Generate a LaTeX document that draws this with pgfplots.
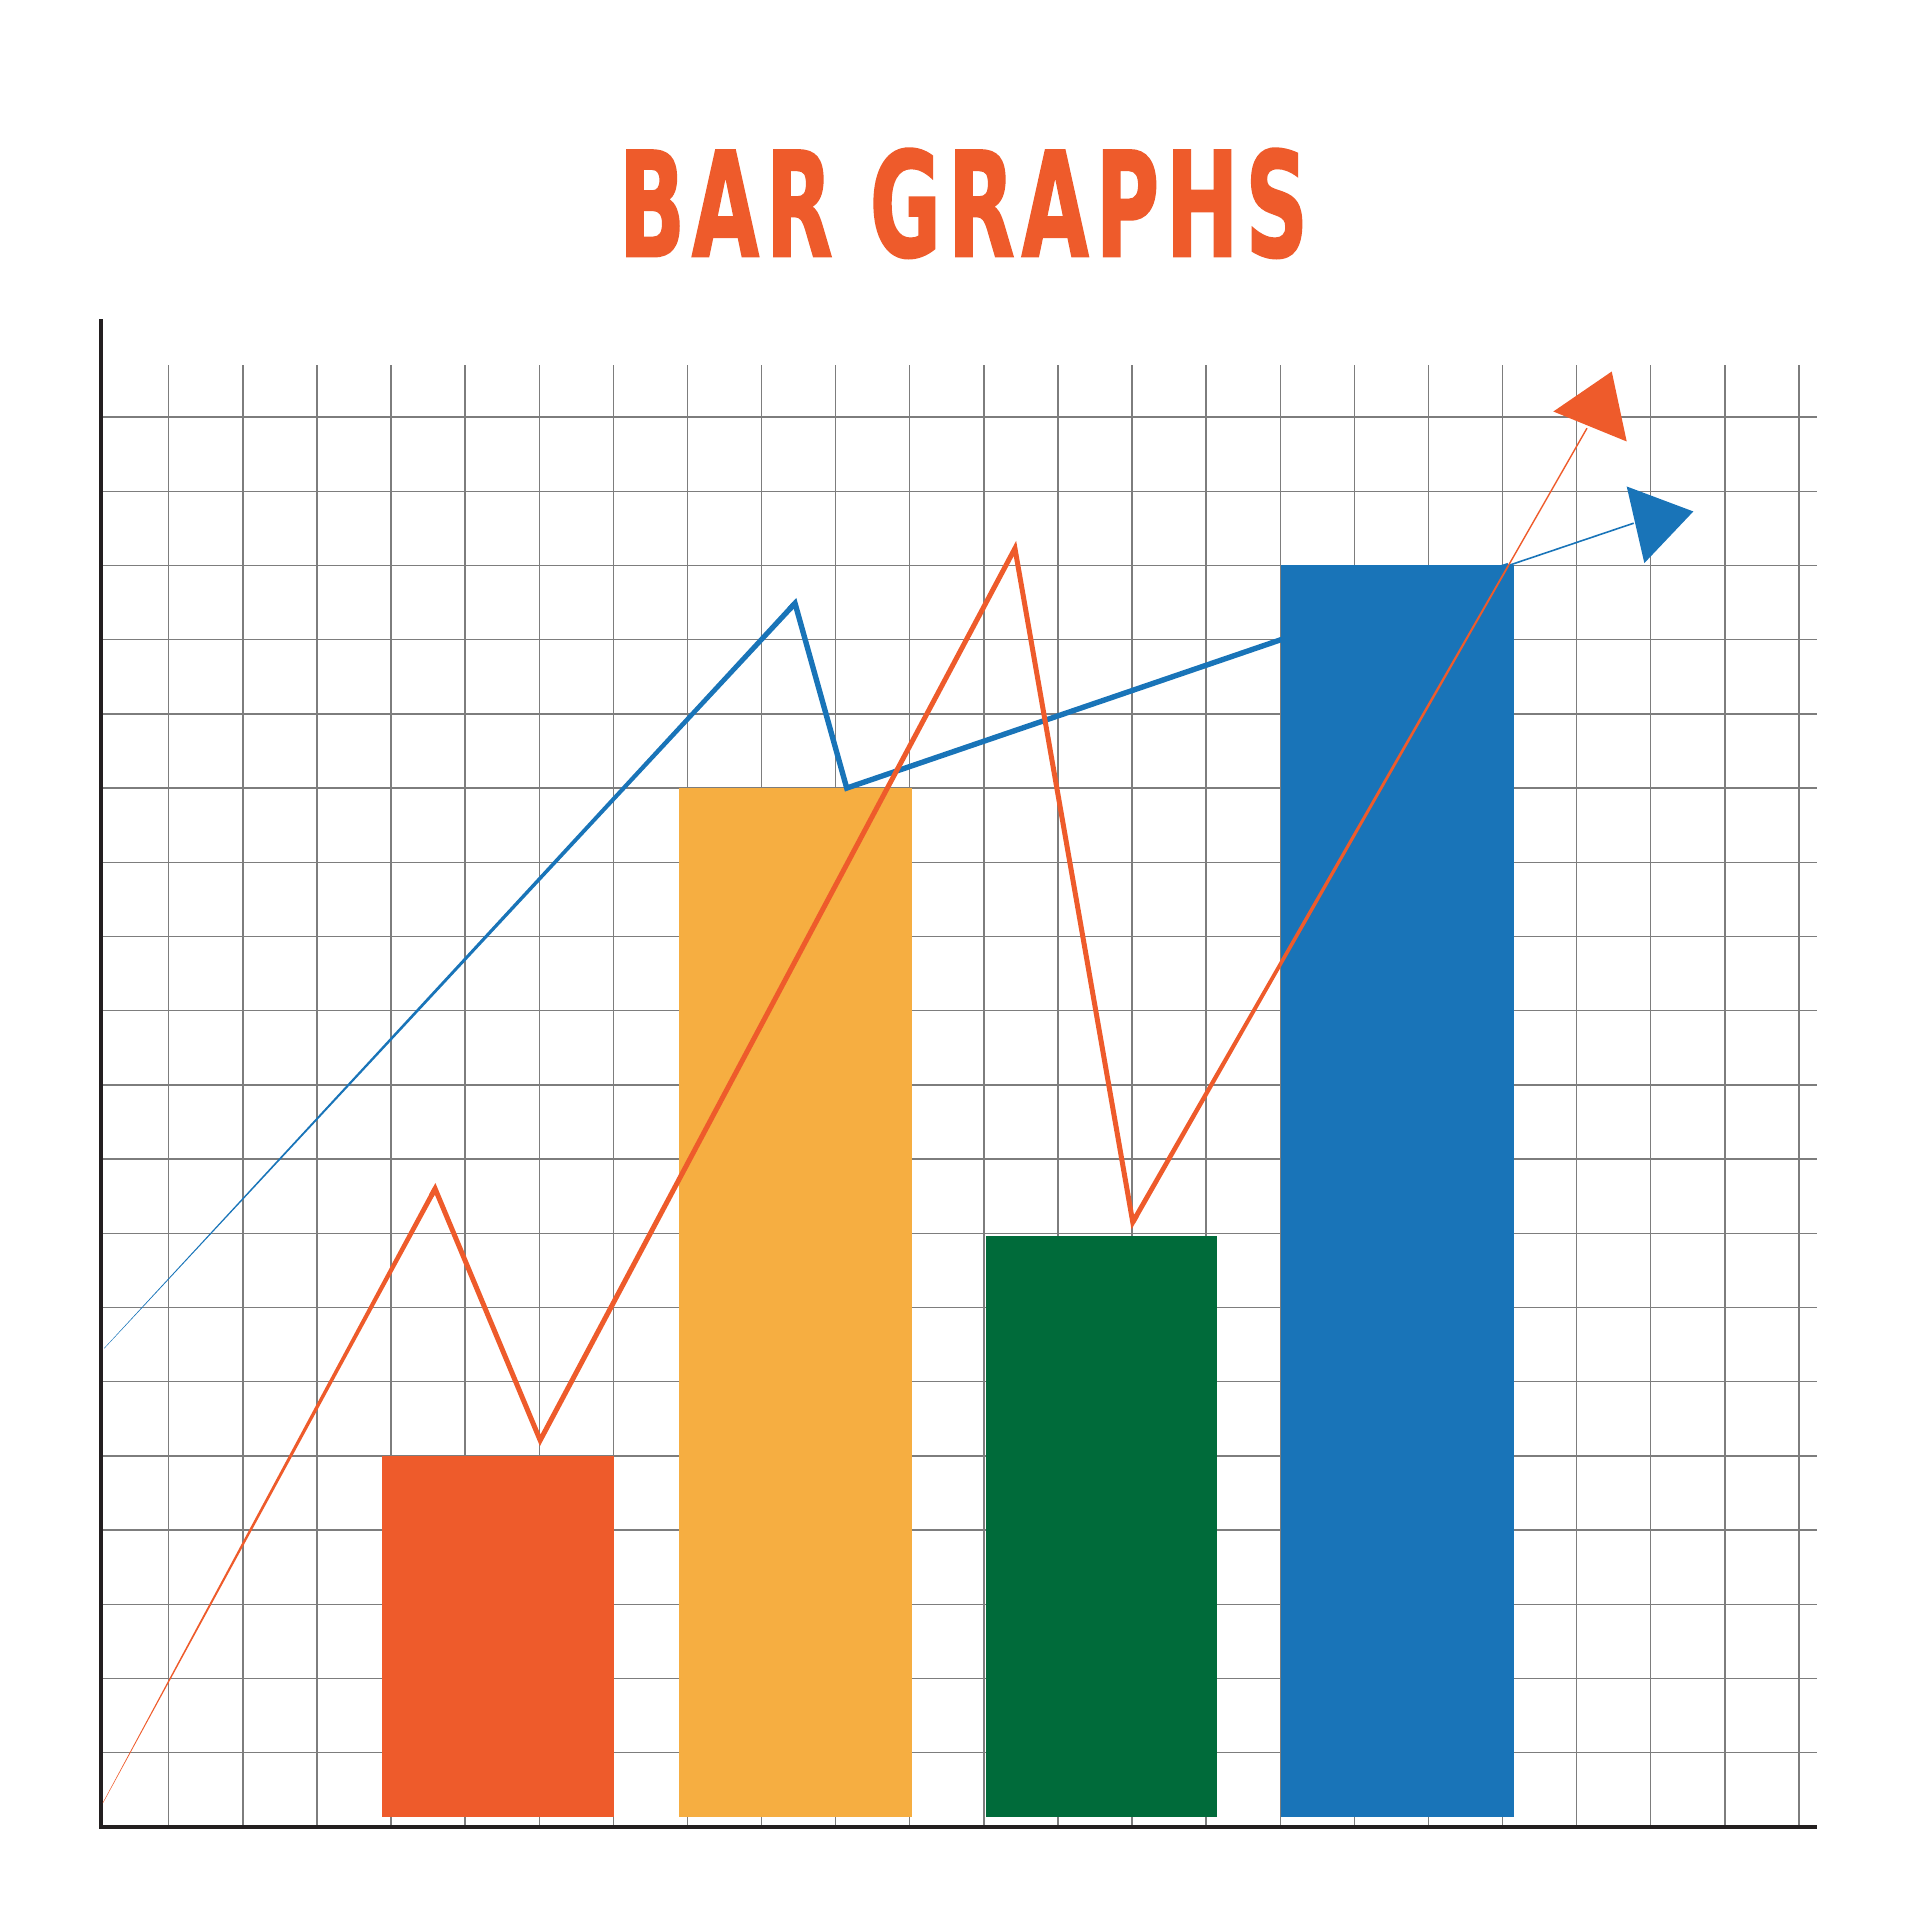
\documentclass[border=0pt]{standalone}
\usepackage{pgfplots}
\pgfplotsset{compat=1.18}
\usepackage{fontspec}
\newfontfamily\titlefont{DejaVu Sans Condensed}[BoldFont={* Bold}, BoldFeatures={FakeBold=1.5, LetterSpace=7}]
\definecolor{cOrange}{RGB}{238,91,43}
\definecolor{cYellow}{RGB}{246,174,65}
\definecolor{cGreen}{RGB}{0,107,58}
\definecolor{cBlue}{RGB}{25,116,184}
\definecolor{cGrid}{RGB}{125,125,125}
\definecolor{cAxis}{RGB}{35,31,32}
\begin{document}
\begin{tikzpicture}
\begin{axis}[
  x=18.525pt, y=18.55pt,
  xmin=0.082, xmax=23.25, ymin=0, ymax=19.70,
  axis line style={draw=none},
  xtick={1,...,23}, ytick={1,...,19},
  xticklabels={}, yticklabels={},
  major tick length=0pt,
  grid=major,
  grid style={line width=0.35pt, color=cGrid},
  clip=false,
]
% bars
\addplot[fill=cOrange, draw=none] coordinates {(3.88,0.137) (7.01,0.137) (7.01,5.0) (3.88,5.0)} -- cycle;
\addplot[fill=cYellow, draw=none] coordinates {(7.89,0.137) (11.03,0.137) (11.03,14.0) (7.89,14.0)} -- cycle;
\addplot[fill=cGreen, draw=none] coordinates {(12.03,0.137) (15.15,0.137) (15.15,7.97) (12.03,7.97)} -- cycle;
\addplot[fill=cBlue, draw=none] coordinates {(16.01,0.137) (19.15,0.137) (19.15,17.0) (16.01,17.0)} -- cycle;
% axes
\addplot[cAxis, line width=1pt, line join=miter] coordinates {(0.082,20.32) (0.082,0) (23.25,0)};
% blue line
\addplot[fill=cBlue, draw=none] coordinates {(0.1280,6.4518) (9.4253,16.5147) (9.4787,16.4653) (0.1320,6.4482)} -- cycle;
\addplot[cBlue, line width=1.35pt, line join=miter, dash pattern=on 0pt off 251.98pt on 5000pt]
  coordinates {(0.13,6.45) (9.452,16.49) (10.15,14.0) (16.01,16.0) (19.08,17.0)};
\addplot[cBlue, line width=0.4pt] coordinates {(19.08,17.0) (20.77,17.57)};
% orange line
\addplot[fill=cOrange, draw=none] coordinates {(0.1076,0.3213) (4.5653,8.6160) (4.6247,8.5840) (0.1124,0.3187)} -- cycle;
\addplot[cOrange, line width=1.25pt, line join=miter, dash pattern=on 0pt off 172.62pt on 495.73pt off 5000pt]
  coordinates {(0.11,0.32) (4.595,8.60) (6.013,5.21) (12.42,17.23) (14.01,8.15) (19.08,17.0)};
\addplot[fill=cOrange, draw=none] coordinates {(13.9807,8.1667) (19.0697,17.0059) (19.0903,16.9941) (14.0393,8.1333)} -- cycle;
\addplot[cOrange, line width=0.35pt] coordinates {(19.08,17.0) (20.14,18.85)};
% arrowheads
\addplot[fill=cOrange, draw=none] coordinates {(19.686,19.075) (20.474,19.614) (20.676,18.671)} -- cycle;
\addplot[fill=cBlue, draw=none] coordinates {(20.676,18.065) (21.575,17.728) (20.914,17.032)} -- cycle;
% title
\node[inner sep=0pt, text=cOrange] at (axis cs:11.726,21.88)
  {\resizebox{172.3pt}{27pt}{\titlefont\bfseries BAR GRAPHS}};
% page frame
\path (axis cs:-1.277,-1.255) rectangle (axis cs:24.63,24.621);
\end{axis}
\end{tikzpicture}
\end{document}
